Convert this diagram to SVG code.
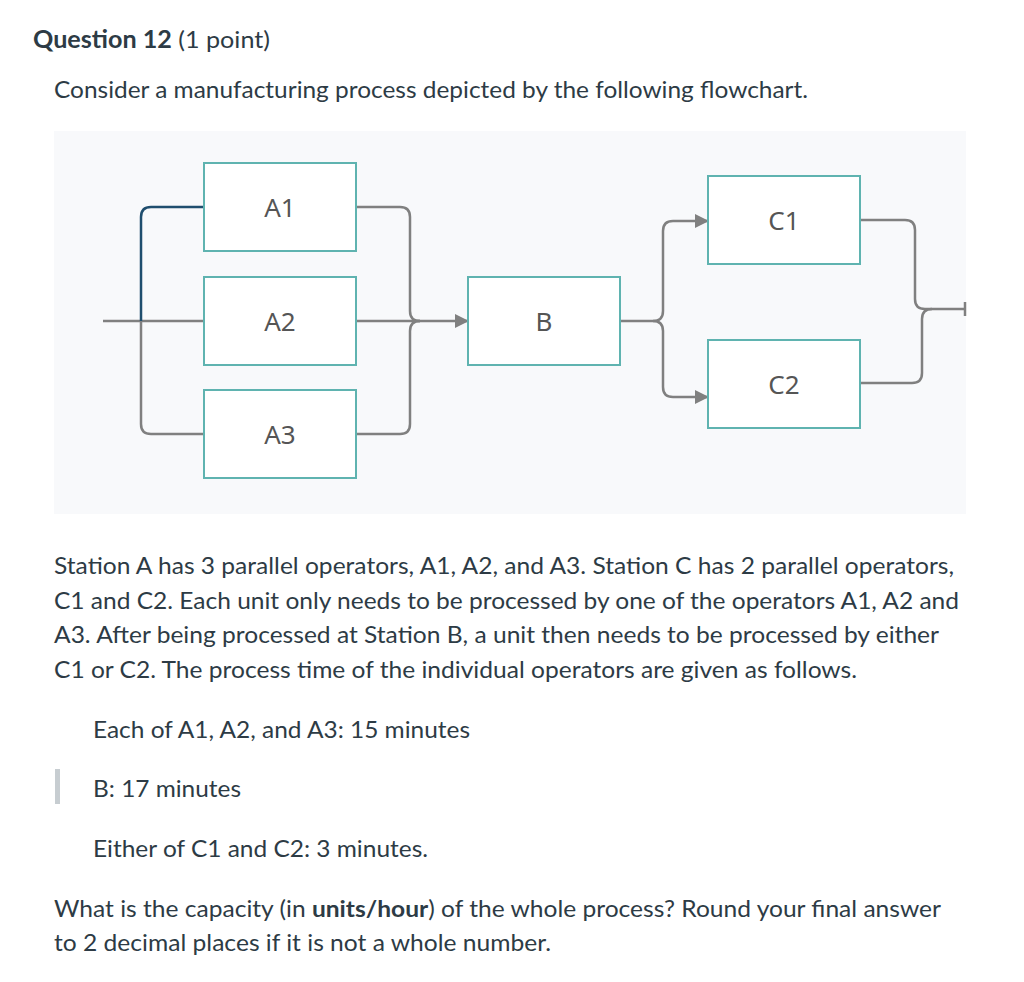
<svg xmlns="http://www.w3.org/2000/svg" width="1024" height="982" viewBox="0 0 1024 982">
<style>
.t{font-family:Lato,"Noto Sans",sans-serif;font-size:23.5px;fill:#2d3b45}
.box{fill:#fff;stroke:#5fb3b0;stroke-width:2}
.lbl{font-family:"Noto Sans","Open Sans",sans-serif;font-size:26px;fill:#555;text-anchor:middle}
.c{fill:none;stroke:#808080;stroke-width:2.5}
</style>
<defs><marker id="ar" markerWidth="14" markerHeight="14" refX="13" refY="7" orient="auto" markerUnits="userSpaceOnUse"><path d="M0,0 L14,7 L0,14 Z" fill="#808080"/></marker></defs>
<rect width="1024" height="982" fill="#fff"/>
<text x="33" y="48" class="t" style="font-size:24px" textLength="237" lengthAdjust="spacingAndGlyphs"><tspan font-weight="bold">Question 12</tspan> (1 point)</text>
<text x="54" y="98" class="t" textLength="754" lengthAdjust="spacingAndGlyphs">Consider a manufacturing process depicted by the following flowchart.</text>
<rect x="54" y="131" width="912" height="383" fill="#f8f9fb"/>
<g id="connectors">
<path class="c" d="M103,321 H204"/>
<path class="c" d="M141,321 V424 Q141,434 151,434 H204"/>
<path fill="none" stroke="#1f4e6e" stroke-width="2.5" d="M141,321 V217 Q141,207 151,207 H204"/>
<path class="c" d="M356,207 H400 Q410,207 410,217 V311 Q410,321 420,321"/>
<path class="c" d="M356,434 H400 Q410,434 410,424 V331 Q410,321 420,321"/>
<path class="c" d="M356,321 H468" marker-end="url(#ar)"/>
<path class="c" d="M620,321 H653 Q663,321 663,311 V231 Q663,221 673,221 H708" marker-end="url(#ar)"/>
<path class="c" d="M653,321 Q663,321 663,331 V387 Q663,397 673,397 H708" marker-end="url(#ar)"/>
<path class="c" d="M860,220 H905 Q915,220 915,230 V299 Q915,309 925,309 H965"/>
<path class="c" d="M860,383 H912 Q922,383 922,373 V319 Q922,309 932,309"/>
<path class="c" d="M965,302 V316"/>
</g>
<g id="A1"><rect class="box" x="204" y="163" width="152" height="88"/><text class="lbl" x="280" y="217">A1</text></g>
<g id="A2"><rect class="box" x="204" y="277" width="152" height="88"/><text class="lbl" x="280" y="331">A2</text></g>
<g id="A3"><rect class="box" x="204" y="390" width="152" height="88"/><text class="lbl" x="280" y="444">A3</text></g>
<g id="B"><rect class="box" x="468" y="277" width="152" height="88"/><text class="lbl" x="544" y="331">B</text></g>
<g id="C1"><rect class="box" x="708" y="176" width="152" height="88"/><text class="lbl" x="784" y="230">C1</text></g>
<g id="C2"><rect class="box" x="708" y="340" width="152" height="88"/><text class="lbl" x="784" y="394">C2</text></g>
<text x="54" y="574" class="t" textLength="900" lengthAdjust="spacingAndGlyphs">Station A has 3 parallel operators, A1, A2, and A3. Station C has 2 parallel operators,</text>
<text x="54" y="609" class="t" textLength="905" lengthAdjust="spacingAndGlyphs">C1 and C2. Each unit only needs to be processed by one of the operators A1, A2 and</text>
<text x="54" y="643" class="t" textLength="885" lengthAdjust="spacingAndGlyphs">A3. After being processed at Station B, a unit then needs to be processed by either</text>
<text x="54" y="678" class="t" textLength="803" lengthAdjust="spacingAndGlyphs">C1 or C2. The process time of the individual operators are given as follows.</text>
<text x="93" y="738" class="t" textLength="377" lengthAdjust="spacingAndGlyphs">Each of A1, A2, and A3: 15 minutes</text>
<rect x="55" y="769" width="5" height="35" fill="#c7cdd1"/>
<text x="93" y="797" class="t" textLength="148" lengthAdjust="spacingAndGlyphs">B: 17 minutes</text>
<text x="93" y="857" class="t" textLength="335" lengthAdjust="spacingAndGlyphs">Either of C1 and C2: 3 minutes.</text>
<text x="54" y="917" class="t" textLength="887" lengthAdjust="spacingAndGlyphs">What is the capacity (in <tspan font-weight="bold">units/hour</tspan>) of the whole process? Round your final answer</text>
<text x="54" y="951" class="t" textLength="497" lengthAdjust="spacingAndGlyphs">to 2 decimal places if it is not a whole number.</text>
</svg>
